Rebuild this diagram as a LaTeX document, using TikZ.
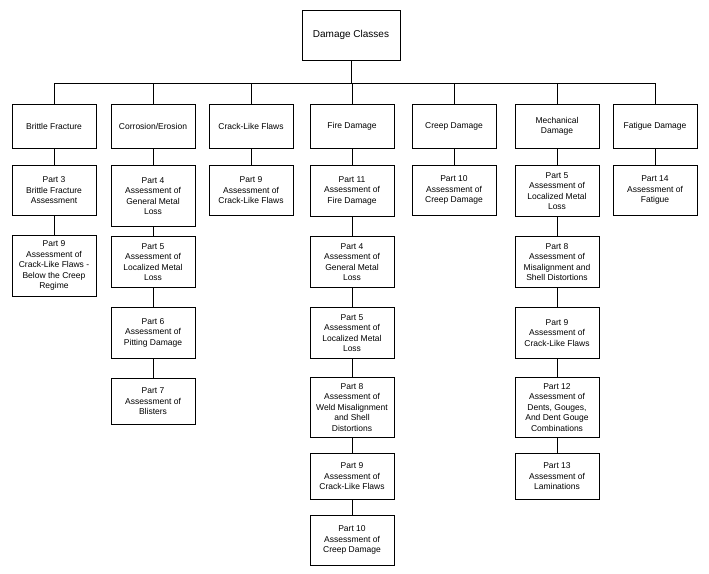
\documentclass[tikz,border=0pt]{standalone}
\usepackage{fontspec}
\setmainfont{Liberation Sans}
\begin{document}
\begin{tikzpicture}[x=1pt,y=-1pt,
 bx/.style={draw,line width=0.8pt,anchor=north,minimum width=84pt,align=center,inner sep=1pt,font=\fontsize{8.5}{10.5}\selectfont},
 ln/.style={line width=0.8pt}]
\useasboundingbox (0,0) rectangle (709,573);
\node[bx,minimum width=98pt,minimum height=50pt,font=\fontsize{10}{12}\selectfont] (top) at (351,10) {Damage Classes};
\coordinate (bus) at (351,83);
% class row
\foreach \n/\x/\t in {c1/54/{Brittle Fracture},c2/153/{Corrosion/Erosion},c3/251/{Crack-Like Flaws},c4/352/{Fire Damage},c5/454/{Creep Damage},c6/557/{Mechanical\\Damage},c7/655/{Fatigue Damage}}
 {\node[bx,minimum height=44pt] (\n) at (\x,104) {\t};
  \draw[ln] (\n.north) -- (\x,83);}
\draw[ln] (54,83) -- (655,83);
\draw[ln] (top.south) -- (bus);
% column 1
\node[bx,minimum height=50pt] (a1) at (54,165) {Part 3\\Brittle Fracture\\Assessment};
\node[bx,minimum height=61pt] (a2) at (54,235) {Part 9\\Assessment of\\Crack-Like Flaws -\\Below the Creep\\Regime};
\draw[ln] (c1)--(a1) (a1)--(a2);
% column 2
\node[bx,minimum height=61pt] (b1) at (153,165) {Part 4\\Assessment of\\General Metal\\Loss};
\node[bx,minimum height=51pt] (b2) at (153,236) {Part 5\\Assessment of\\Localized Metal\\Loss};
\node[bx,minimum height=51pt] (b3) at (153,307) {Part 6\\Assessment of\\Pitting Damage};
\node[bx,minimum height=46pt] (b4) at (153,378) {Part 7\\Assessment of\\Blisters};
\draw[ln] (c2)--(b1) (b1)--(b2) (b2)--(b3) (b3)--(b4);
% column 3
\node[bx,minimum height=50pt] (d1) at (251,165) {Part 9\\Assessment of\\Crack-Like Flaws};
\draw[ln] (c3)--(d1);
% fire
\node[bx,minimum height=51pt] (e1) at (352,165) {Part 11\\Assessment of\\Fire Damage};
\node[bx,minimum height=51pt] (e2) at (352,236) {Part 4\\Assessment of\\General Metal\\Loss};
\node[bx,minimum height=51pt] (e3) at (352,307) {Part 5\\Assessment of\\Localized Metal\\Loss};
\node[bx,minimum height=60pt] (e4) at (352,377) {Part 8\\Assessment of\\Weld Misalignment\\and Shell\\Distortions};
\node[bx,minimum height=46pt] (e5) at (352,453) {Part 9\\Assessment of\\Crack-Like Flaws};
\node[bx,minimum height=50pt] (e6) at (352,515) {Part 10\\Assessment of\\Creep Damage};
\draw[ln] (c4)--(e1) (e1)--(e2) (e2)--(e3) (e3)--(e4) (e4)--(e5) (e5)--(e6);
% creep
\node[bx,minimum height=50pt] (f1) at (454,165) {Part 10\\Assessment of\\Creep Damage};
\draw[ln] (c5)--(f1);
% mechanical
\node[bx,minimum height=51pt] (g1) at (557,165) {Part 5\\Assessment of\\Localized Metal\\Loss};
\node[bx,minimum height=51pt] (g2) at (557,236) {Part 8\\Assessment of\\Misalignment and\\Shell Distortions};
\node[bx,minimum height=51pt] (g3) at (557,307) {Part 9\\Assessment of\\Crack-Like Flaws};
\node[bx,minimum height=60pt] (g4) at (557,377) {Part 12\\Assessment of\\Dents, Gouges,\\And Dent Gouge\\Combinations};
\node[bx,minimum height=46pt] (g5) at (557,453) {Part 13\\Assessment of\\Laminations};
\draw[ln] (c6)--(g1) (g1)--(g2) (g2)--(g3) (g3)--(g4) (g4)--(g5);
% fatigue
\node[bx,minimum height=50pt] (h1) at (655,165) {Part 14\\Assessment of\\Fatigue};
\draw[ln] (c7)--(h1);
\end{tikzpicture}
\end{document}
